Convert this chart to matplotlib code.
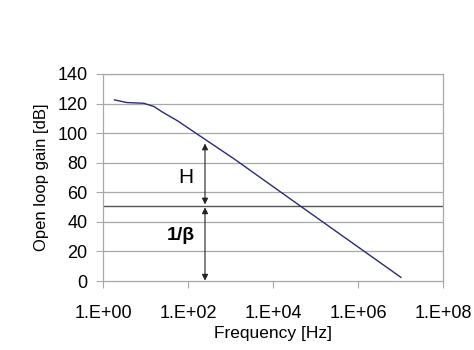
import numpy as np
import matplotlib
matplotlib.use("Agg")
from matplotlib import pyplot as plt

# open loop gain curve (log10 of frequency, dB)
logf = [0.27, 0.56, 0.96, 1.20, 1.39, 1.75, 2.22, 3.09, 4.63, 7.01]
gain = [122.5, 120.7, 120.2, 118.0, 114.4, 108.4, 99.3, 82.5, 51.0, 2.5]

closed_gain = 51.0       # 1/beta level
arrow_logf = 2.40        # where the H and 1/beta arrows sit
arrow_top = 93.0

xticks = [0, 2, 4, 6, 8]
xlabels = ["1.E+00", "1.E+02", "1.E+04", "1.E+06", "1.E+08"]
yticks = [0, 20, 40, 60, 80, 100, 120, 140]

plt.rcParams['font.family'] = ['Liberation Sans', 'DejaVu Sans']

fig = plt.figure(figsize=(4.74, 3.5), dpi=100)
ax = fig.add_axes([0.2173, 0.197, 0.7173, 0.5916])

freq = 10.0 ** np.array(logf)
ax.set_xscale('log')
ax.set_xlim(1, 1e8)
ax.set_ylim(0, 140)

for y in yticks[1:]:
    ax.axhline(y, color='#a8a8a8', lw=0.9, zorder=1)
ax.axhline(closed_gain, color='#555555', lw=1.0, zorder=2)

ax.plot(freq, gain, color='#2a2a78', lw=1.0, zorder=3)

fa = 10.0 ** arrow_logf
aprops = dict(arrowstyle='<|-|>', color='#222222', lw=0.8, mutation_scale=9,
              shrinkA=0, shrinkB=0)
ax.annotate('', xy=(fa, arrow_top), xytext=(fa, closed_gain + 0.8), arrowprops=aprops)
ax.annotate('', xy=(fa, closed_gain - 1.2), xytext=(fa, 0.3), arrowprops=aprops)

ax.text(10 ** 1.95, 70, 'H', fontsize=15, ha='center', va='center')
ax.text(10 ** 1.83, 30.5, '1/β', fontsize=14, ha='center', va='center', fontweight='bold')

ax.set_xticks(10.0 ** np.array(xticks))
ax.set_xticklabels(xlabels)
ax.minorticks_off()
ax.set_yticks(yticks)

for s in ax.spines.values():
    s.set_color('#a8a8a8')
    s.set_linewidth(0.9)

ax.tick_params(axis='x', colors='#a8a8a8', labelcolor='black', length=5, width=0.8,
               labelsize=13, pad=12)
ax.tick_params(axis='y', colors='#a8a8a8', labelcolor='black', length=5, width=0.8,
               labelsize=13, pad=6)

ax.set_xlabel('Frequency [Hz]', fontsize=12.5, labelpad=3)
ax.set_ylabel('Open loop gain [dB]', fontsize=12, labelpad=6)

fig.savefig('out.png', dpi=100)
